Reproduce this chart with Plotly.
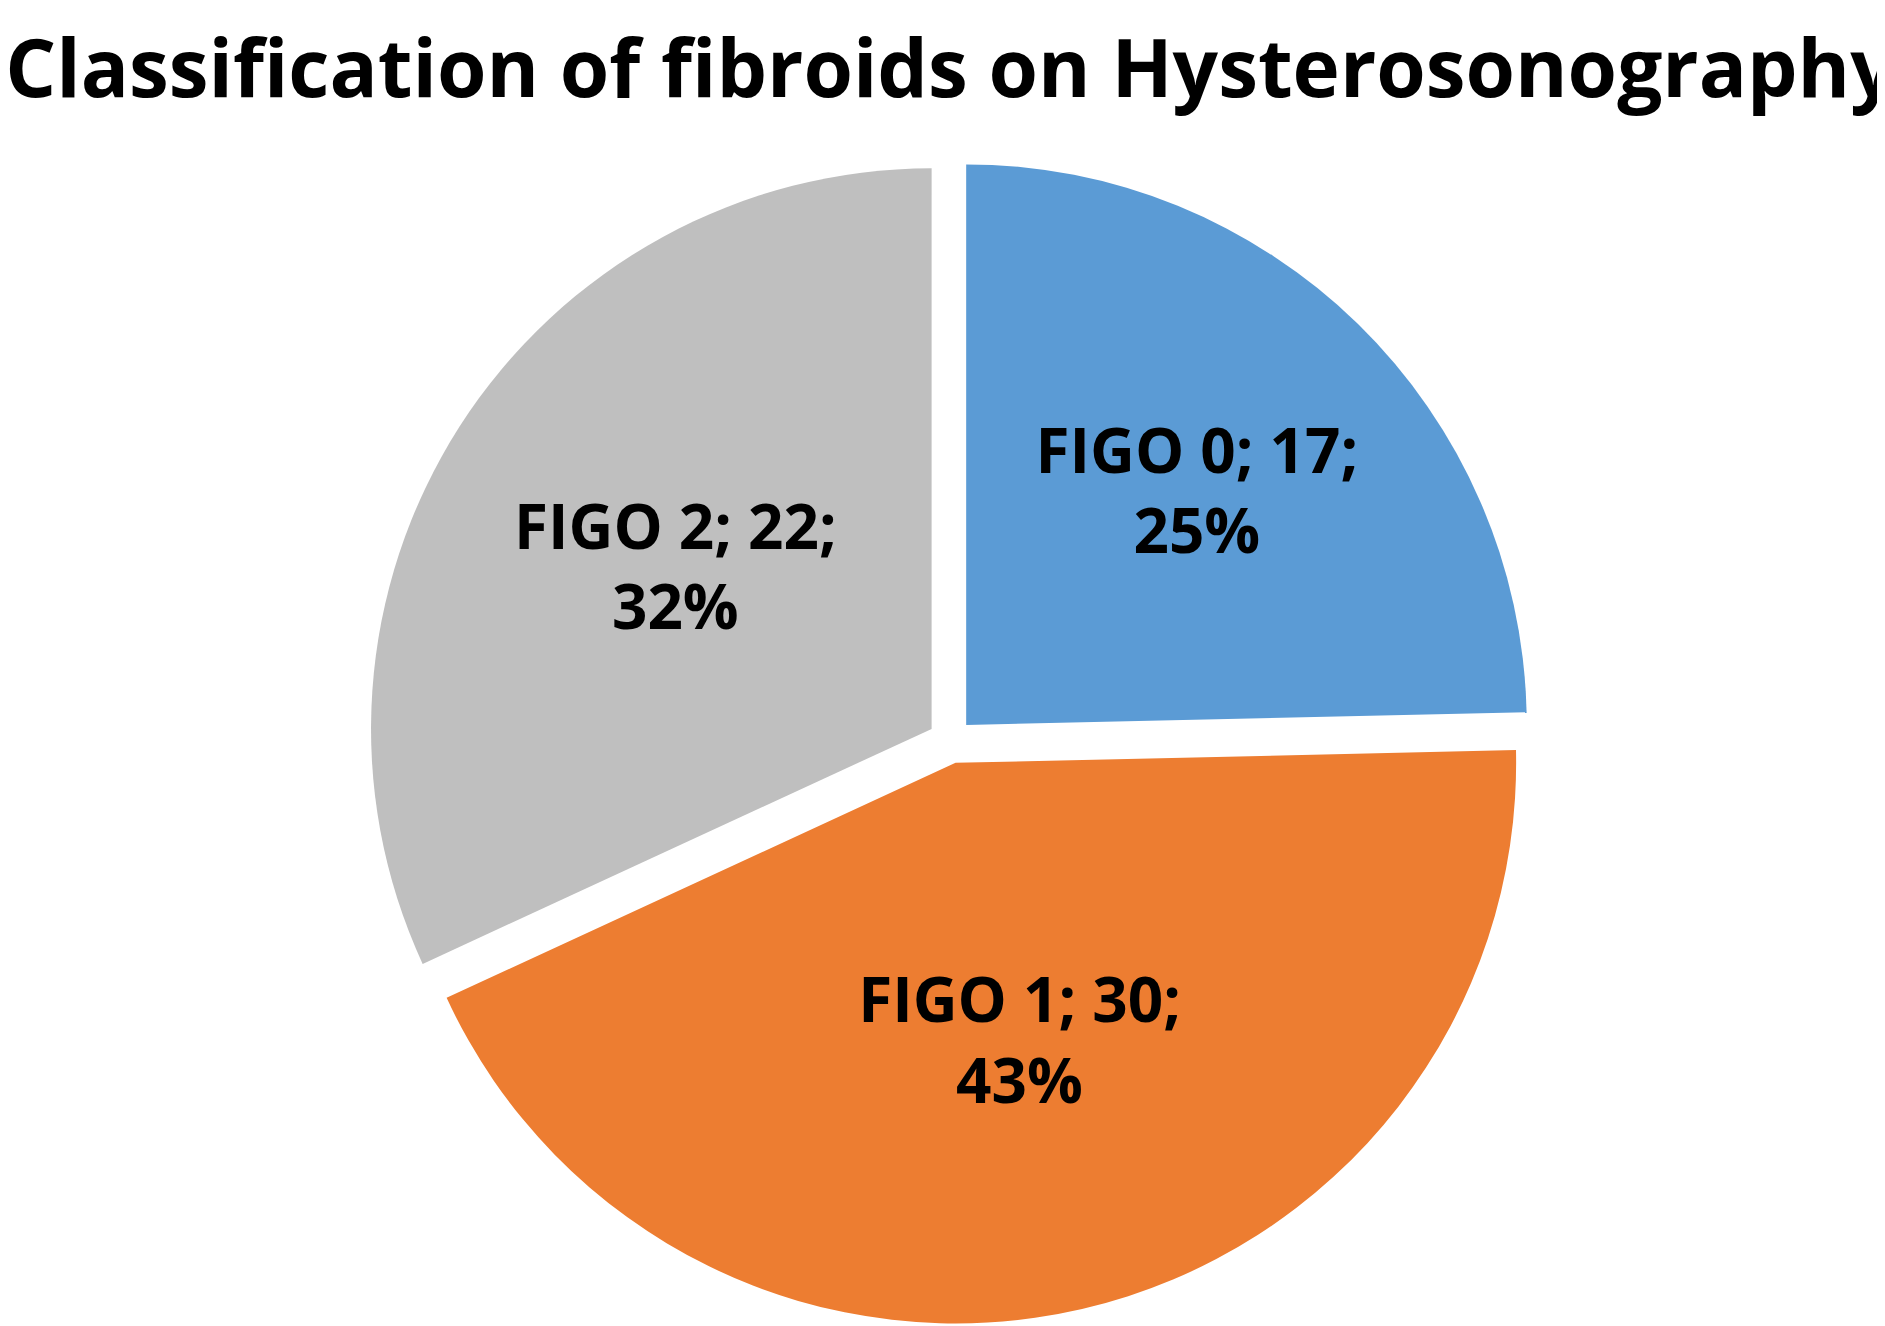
import plotly.graph_objects as go

labels = ["FIGO 0", "FIGO 1", "FIGO 2"]
values = [17, 30, 22]
colors = ["#5b9bd5", "#ed7d31", "#bfbfbf"]

fig = go.Figure(go.Pie(
    labels=labels,
    values=values,
    sort=False,
    direction="clockwise",
    rotation=0,
    pull=[0.04, 0.04, 0.04],
    marker=dict(colors=colors, line=dict(color="white", width=0)),
    texttemplate="<b>%{label}; %{value};<br>%{percent:.0%}</b>",
    textposition="inside",
    insidetextorientation="horizontal",
    textfont=dict(family="Open Sans", size=62, color="black"),
    hoverinfo="label+value+percent",
))

fig.update_layout(
    title=dict(text="<b>Classification of fibroids on Hysterosonography</b>",
               x=0.5, y=0.975, xanchor="center",
               font=dict(family="Open Sans", size=80, color="black")),
    showlegend=False,
    uniformtext=dict(minsize=62, mode="show"),
    paper_bgcolor="white",
    margin=dict(t=150, b=10, l=10, r=10),
    width=1885, height=1326,
)

fig.write_html("out.html")
